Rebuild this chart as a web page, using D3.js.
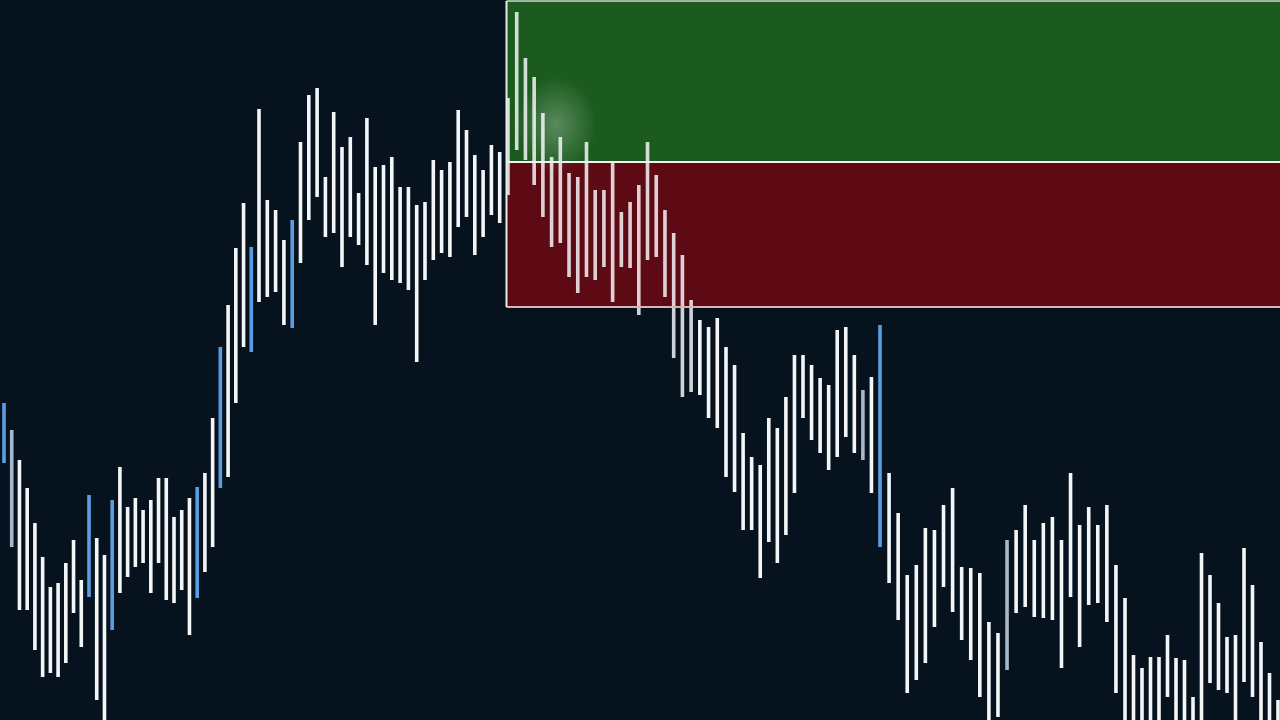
<!DOCTYPE html>
<html>
<head>
<meta charset="utf-8">
<script src="https://cdn.jsdelivr.net/npm/d3@7"></script>
<style>
  html, body { margin: 0; padding: 0; background: #06121d; overflow: hidden; }
  svg { display: block; }
</style>
</head>
<body>
<svg id="chart" width="1280" height="720"></svg>
<script>
// ---- data (price units) ----
const highs = [317,290,260,232,197,163,133,137,157,180,140,225,182,165,220,253,213,222,210,220,
  242,242,203,210,222,233,247,302,373,415,472,517,473,611,520,510,480,500,578,625,
  632,543,608,573,583,527,602,553,555,563,533,533,515,518,560,550,558,610,590,565,
  550,575,568,622,708,662,643,607,563,583,547,543,578,530,530,557,508,518,535,578,
  545,510,487,465,420,400,393,402,373,355,287,263,255,302,292,323,365,365,355,342,
  335,390,393,365,330,343,395,247,207,145,155,192,190,215,232,153,152,147,98,87,
  180,190,215,180,197,203,180,247,195,213,195,215,155,122,65,52,63,63,85,62,
  60,23,167,145,117,83,85,172,135,78,47,20];
const lows = [257,173,110,110,70,43,47,43,57,107,73,123,20,-10,90,127,143,153,157,127,
  157,120,117,130,85,122,148,173,232,243,317,373,368,418,423,428,395,392,457,500,
  523,483,487,453,483,475,455,395,447,440,437,430,358,440,460,467,463,493,503,465,
  483,505,497,525,570,560,535,503,473,477,443,427,443,440,453,418,453,452,405,460,
  463,423,362,323,328,325,302,292,243,228,190,190,142,178,157,185,227,302,280,267,
  250,263,283,267,260,227,173,137,100,27,40,57,93,133,108,80,60,23,-10,3,
  50,107,113,103,102,100,52,123,73,115,117,98,27,-10,-10,-10,-10,-10,23,-10,
  -10,-10,-10,37,30,27,-10,38,23,-10,-10,-10];
// candles drawn in blue / dimmed (by candle number)
const blueCandles = [0, 11, 14, 25, 28, 32, 37, 106];
const dimCandles = [1, 104, 120];
// position tool (long setup): entry, stop, target, starting candle
const position = { startIndex: 63, entry: 558, stop: 413, target: 719 };

// ---- layout ----
const W = 1280, H = 720;
const svg = d3.select("#chart");
const n = highs.length;

const x = d3.scaleLinear()
  .domain([0, 33, 63, 88, 106, 133, n - 1])
  .range([4, 259, 508, 726, 880, 1125, 1278]);
const y = d3.scaleLinear().domain([0, 720]).range([H, 0]);

const colors = { w: "#f3f5f7", b: "#5a9fe2", d: "#a6b8ca" };

svg.append("rect").attr("width", W).attr("height", H).attr("fill", "#06121d");

const defs = svg.append("defs");
defs.append("filter").attr("id", "soft").attr("x", "-5%").attr("y", "-5%").attr("width", "110%").attr("height", "110%")
  .append("feGaussianBlur").attr("stdDeviation", 0.7);
const rg = defs.append("radialGradient").attr("id", "haze");
rg.append("stop").attr("offset", "0%").attr("stop-color", "#ffffff").attr("stop-opacity", 0.28);
rg.append("stop").attr("offset", "100%").attr("stop-color", "#ffffff").attr("stop-opacity", 0);

// position tool boxes (under the candles)
const px0 = x(position.startIndex) - 1.5;
const g = svg.append("g");
g.append("rect")
  .attr("x", px0).attr("width", W - px0)
  .attr("y", y(position.target)).attr("height", y(position.entry) - y(position.target))
  .attr("fill", "#1b5c1e");
g.append("rect")
  .attr("x", px0).attr("width", W - px0)
  .attr("y", y(position.entry)).attr("height", y(position.stop) - y(position.entry))
  .attr("fill", "#5e0a15");

const candles = d3.range(n).map(i => ({
  i, h: highs[i], l: lows[i],
  t: blueCandles.includes(i) ? "b" : (dimCandles.includes(i) ? "d" : "w")
}));

svg.append("g").attr("filter", "url(#soft)")
  .selectAll("rect").data(candles).join("rect")
  .attr("x", d => x(d.i) - 1.8)
  .attr("width", 3.6)
  .attr("y", d => y(d.h))
  .attr("height", d => y(d.l) - y(d.h))
  .attr("fill", d => colors[d.t])
  .attr("fill-opacity", d => {
    const inBox = d.i >= position.startIndex && d.h > position.stop;
    return inBox ? 0.85 : 1;
  });

// haze near the breakout
svg.append("ellipse").attr("cx", x(68) + 5).attr("cy", y(595)).attr("rx", 40).attr("ry", 48)
  .attr("fill", "url(#haze)");

// borders
const b = svg.append("g");
b.append("line").attr("x1", px0).attr("x2", W).attr("y1", y(position.target)).attr("y2", y(position.target))
  .attr("stroke", "#cfe3cf").attr("stroke-width", 1.5);
b.append("line").attr("x1", px0).attr("x2", W).attr("y1", y(position.entry)).attr("y2", y(position.entry))
  .attr("stroke", "#f2f2f2").attr("stroke-width", 2);
b.append("line").attr("x1", px0).attr("x2", W).attr("y1", y(position.stop)).attr("y2", y(position.stop))
  .attr("stroke", "#d9b3b5").attr("stroke-width", 2);
b.append("line").attr("x1", px0).attr("x2", px0).attr("y1", y(position.target)).attr("y2", y(position.stop))
  .attr("stroke", "#e6ece6").attr("stroke-width", 2);
</script>
</body>
</html>
